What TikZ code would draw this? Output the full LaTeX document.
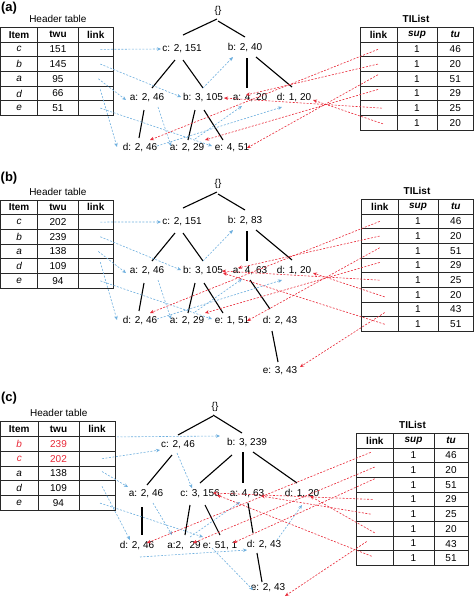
\documentclass[tikz,border=0pt]{standalone}
\usepackage{fontspec}
\setmainfont{Liberation Sans}
\usetikzlibrary{arrows.meta,calc}
\definecolor{linkblue}{RGB}{110,175,222}
\definecolor{linkred}{RGB}{232,40,55}
\definecolor{tblline}{RGB}{40,40,40}
\newcommand{\tsz}{\fontsize{10}{12}\selectfont}
\tikzset{
 tbl/.style={draw=tblline, line width=1pt},
 ttl/.style={font=\tsz, inner sep=0pt},
 ttlb/.style={font=\tsz\bfseries, inner sep=0pt},
 hd/.style={font=\tsz\bfseries, inner sep=0pt},
 hdi/.style={font=\tsz\bfseries\itshape, inner sep=0pt},
 cell/.style={font=\tsz, inner sep=0pt},
 celli/.style={font=\tsz\itshape, inner sep=0pt},
 tn/.style={font=\tsz, inner sep=0.5pt},
 plabel/.style={font=\fontsize{13}{15}\selectfont\bfseries, inner sep=0pt},
 tedge/.style={draw=black, line width=1.1pt},
 bl/.style={draw=linkblue, line width=0.6pt, dash pattern=on 2pt off 1.5pt, -{Stealth[length=4pt,width=3.5pt]}},
 rd/.style={draw=linkred, line width=0.6pt, dash pattern=on 2pt off 1.5pt, -{Stealth[length=4pt,width=3.5pt]}},
}
% header table: #1 prefix, #2-#5 column x, #6 top, #7 row height, #8 item/twu/colour list
\newcommand{\mkheader}[8]{%
 \node[ttl] (#1-title) at ({(#2+#5)/2+1},{#6-8.5}) {Header table};
 \draw[tbl] (#2,#6) rectangle (#5,{#6+6*#7});
 \draw[tbl] (#3,#6) -- (#3,{#6+6*#7}) (#4,#6) -- (#4,{#6+6*#7});
 \foreach \k in {1,...,5} {\draw[tbl] (#2,{#6+\k*#7}) -- (#5,{#6+\k*#7});}
 \node[hd] (#1-h1) at ({(#2+#3)/2},{#6+#7/2}) {Item};
 \node[hd] (#1-h2) at ({(#3+#4)/2},{#6+#7/2}) {twu};
 \node[hd] (#1-h3) at ({(#4+#5)/2},{#6+#7/2}) {link};
 \foreach \itm/\tw/\clr [count=\i] in {#8} {
   \node[celli,text=\clr] (#1-i\i) at ({(#2+#3)/2},{#6+(\i+0.5)*#7}) {\itm};
   \node[cell,text=\clr] (#1-t\i) at ({(#3+#4)/2},{#6+(\i+0.5)*#7}) {\tw};
   \coordinate (#1-l\i) at ({#5-13},{#6+(\i+0.5)*#7});
 }
}
% TIList: #1 prefix, #2-#5 column x, #6 top, #7 rows, #8 tu list
\newcommand{\mktil}[8]{%
 \node[ttlb] (#1-title) at ({(#3+#4)/2-1},{#6-8}) {TIList};
 \draw[tbl] (#2,#6) rectangle (#5,{#6+15+#7*14.7});
 \draw[tbl] (#3,#6) -- (#3,{#6+15+#7*14.7}) (#4,#6) -- (#4,{#6+15+#7*14.7});
 \draw[tbl] (#2,{#6+15}) -- (#5,{#6+15});
 \node[hd] (#1-h1) at ({(#2+#3)/2},{#6+7.5}) {link};
 \node[hdi] (#1-h2) at ({(#3+#4)/2},{#6+7.5}) {sup};
 \node[hdi] (#1-h3) at ({(#4+#5)/2},{#6+7.5}) {tu};
 \foreach \tuv [count=\i] in {#8} {
   \draw[tbl] (#2,{#6+15+\i*14.7}) -- (#5,{#6+15+\i*14.7});
   \node[cell] (#1-s\i) at ({(#3+#4)/2},{#6+15+(\i-0.5)*14.7}) {1};
   \node[cell] (#1-u\i) at ({(#4+#5)/2},{#6+15+(\i-0.5)*14.7}) {\tuv};
   \coordinate (#1-l\i) at ({#2+18},{#6+15+(\i-0.5)*14.7});
 }
}
\newcommand{\tre}[6]{\draw[tedge] ($(#1)+(#2,#3)$) -- ($(#4)+(#5,#6)$);}
\newcommand{\blk}[6]{\draw[bl] ($(#1)+(#2,#3)$) -- ($(#4)+(#5,#6)$);}
\newcommand{\rlk}[6]{\draw[rd] ($(#1)+(#2,#3)$) -- ($(#4)+(#5,#6)$);}
\begin{document}
\begin{tikzpicture}[x=1pt,y=-1pt]
\useasboundingbox (0,0) rectangle (474,603);
% ================= (a) =================
\node[plabel] (pa) at (9,8) {(a)};
\mkheader{aH}{0.5}{37.7}{78.3}{113.3}{27.3}{14.7}{c/151/black,b/145/black,a/95/black,d/66/black,e/51/black}
\mktil{aT}{360}{397}{437}{473.5}{27}{6}{46,20,51,29,25,20}
\node[tn] (a-r) at (218,11) {\{\}};
\node[tn] (a-c1) at (182,49) {c: 2, 151};
\node[tn] (a-b1) at (245,48) {b: 2, 40};
\node[tn] (a-a1) at (147,98) {a: 2, 46};
\node[tn] (a-b2) at (203,98) {b: 3, 105};
\node[tn] (a-a2) at (250,98) {a: 4, 20};
\node[tn] (a-d1) at (294,98) {d: 1, 20};
\node[tn] (a-d2) at (140,148) {d: 2, 46};
\node[tn] (a-a3) at (187,148) {a: 2, 29};
\node[tn] (a-e1) at (232,148) {e: 4, 51};
\tre{a-r}{-1}{8}{a-c1}{1}{-14}
\tre{a-r}{0}{10}{a-b1}{0}{-11}
\tre{a-c1}{-7}{11}{a-a1}{5}{-10}
\tre{a-c1}{1}{11}{a-b2}{0}{-10}
\tre{a-b1}{2}{10}{a-a2}{-3}{-10}
\tre{a-b1}{11}{9}{a-d1}{-2}{-11}
\tre{a-a1}{-3}{12}{a-d2}{-1}{-10}
\tre{a-b2}{-8}{12}{a-a3}{1}{-8}
\tre{a-b2}{1}{12}{a-e1}{-9}{-8}
\blk{aH-l1}{0}{0}{a-c1}{-21}{0}
\blk{aH-l2}{0}{0}{a-b2}{-22}{-1}
\blk{aH-l3}{-2}{0}{a-a1}{-21}{2}
\blk{aH-l4}{0}{-4}{a-d2}{-23}{-1}
\blk{aH-l5}{0}{0}{a-e1}{-20}{-2}
\blk{a-b2}{0}{-10}{a-b1}{-12}{9}
\blk{a-a1}{11}{9}{a-a3}{-16}{-2}
\blk{a-a3}{8}{-9}{a-a2}{-8}{8}
\blk{a-d2}{17}{-2}{a-d1}{-12}{9}
\rlk{aT-l1}{0}{0}{a-d2}{10}{-8}
\rlk{aT-l2}{0}{0}{a-a2}{-4}{-3}
\rlk{aT-l3}{0}{-4}{a-e1}{15}{0}
\rlk{aT-l4}{0}{-4}{a-a3}{18}{-8}
\rlk{aT-l5}{4}{0}{a-b2}{21}{0}
\rlk{aT-l6}{5}{1}{a-d1}{19}{2}
% ================= (b) =================
\node[plabel] (pb) at (9,178) {(b)};
\mkheader{bH}{0.5}{37.7}{78.3}{113.3}{200}{14.7}{c/202/black,b/239/black,a/138/black,d/109/black,e/94/black}
\mktil{bT}{361.7}{398}{438}{473.5}{199}{8}{46,20,51,29,25,20,43,51}
\node[tn] (b-r) at (218,184) {\{\}};
\node[tn] (b-c1) at (182,222) {c: 2, 151};
\node[tn] (b-b1) at (245,221) {b: 2, 83};
\node[tn] (b-a1) at (147,271) {a: 2, 46};
\node[tn] (b-b2) at (203,271) {b: 3, 105};
\node[tn] (b-a2) at (250,271) {a: 4, 63};
\node[tn] (b-d1) at (294,271) {d: 1, 20};
\node[tn] (b-d2) at (140,321) {d: 2, 46};
\node[tn] (b-a3) at (187,321) {a: 2, 29};
\node[tn] (b-e1) at (232,321) {e: 1, 51};
\node[tn] (b-d3) at (280,321) {d: 2, 43};
\node[tn] (b-e2) at (280,371) {e: 3, 43};
\tre{b-r}{-1}{8}{b-c1}{1}{-14}
\tre{b-r}{0}{10}{b-b1}{0}{-11}
\tre{b-c1}{-7}{11}{b-a1}{5}{-10}
\tre{b-c1}{1}{11}{b-b2}{0}{-10}
\tre{b-b1}{2}{10}{b-a2}{-3}{-10}
\tre{b-b1}{11}{9}{b-d1}{-2}{-11}
\tre{b-a1}{-3}{12}{b-d2}{-1}{-10}
\tre{b-b2}{-8}{12}{b-a3}{1}{-8}
\tre{b-b2}{1}{12}{b-e1}{-9}{-8}
\tre{b-a2}{0}{9}{b-d3}{-10}{-12}
\tre{b-d3}{-8}{10}{b-e2}{-2}{-9}
\blk{bH-l1}{0}{0}{b-c1}{-21}{0}
\blk{bH-l2}{0}{0}{b-b2}{-22}{-1}
\blk{bH-l3}{-2}{0}{b-a1}{-21}{2}
\blk{bH-l4}{0}{-4}{b-d2}{-23}{-1}
\blk{bH-l5}{0}{0}{b-e1}{-20}{-2}
\blk{b-b2}{0}{-10}{b-b1}{-12}{9}
\blk{b-a1}{11}{9}{b-a3}{-16}{-2}
\blk{b-a3}{8}{-9}{b-a2}{-8}{8}
\blk{b-d2}{17}{-2}{b-d1}{-12}{9}
\rlk{bT-l1}{0}{0}{b-d2}{10}{-8}
\rlk{bT-l2}{0}{0}{b-a2}{-12}{-3}
\rlk{bT-l3}{0}{-3}{b-e1}{15}{0}
\rlk{bT-l4}{0}{-3}{b-a3}{18}{-8}
\rlk{bT-l5}{0}{0}{b-b2}{19}{0}
\rlk{bT-l6}{5}{2}{b-d1}{19}{2}
\rlk{bT-l7}{5}{3}{b-e2}{20}{-4}
\rlk{bT-l8}{5}{0}{b-b2}{20}{2}
% ================= (c) =================
\node[plabel] (pc) at (9,398) {(c)};
\mkheader{cH}{0.5}{38}{79}{115}{421.7}{14.8}{b/239/linkred,c/202/linkred,a/138/black,d/109/black,e/94/black}
\mktil{cT}{356.7}{393}{434}{468}{433}{8}{46,20,51,29,25,20,43,51}
\node[tn] (c-r) at (215,407) {\{\}};
\node[tn] (c-c1) at (178,445) {c: 2, 46};
\node[tn] (c-b1) at (247,443) {b: 3, 239};
\node[tn] (c-a1) at (146,494) {a: 2, 46};
\node[tn] (c-c2) at (200,494) {c: 3, 156};
\node[tn] (c-a2) at (247,494) {a: 4, 63};
\node[tn] (c-d1) at (302,494) {d: 1, 20};
\node[tn] (c-d2) at (137,546) {d: 2, 46};
\node[tn] (c-a3) at (184,546) {a:2,\ \ 29};
\node[tn] (c-e1) at (220,546) {e: 51, 1};
\node[tn] (c-d3) at (264,545) {d: 2, 43};
\node[tn] (c-e2) at (268,588) {e: 2, 43};
\tre{c-r}{-2}{9}{c-c1}{0}{-10}
\tre{c-r}{-2}{8}{c-b1}{-5}{-10}
\tre{c-c1}{-6}{10}{c-a1}{1}{-9}
\tre{c-b1}{-15}{12}{c-c2}{0}{-11}
\tre{c-b1}{-4}{9}{c-a2}{-4}{-11}
\tre{c-b1}{6}{9}{c-d1}{-5}{-11}
\tre{c-a1}{-4}{13}{c-d2}{5}{-11}
\tre{c-c2}{-10}{11}{c-a3}{1}{-11}
\tre{c-c2}{5}{11}{c-e1}{0}{-11}
\tre{c-a2}{1}{9}{c-d3}{-11}{-12}
\tre{c-d3}{-7}{8}{c-e2}{-6}{-6}
\blk{cH-l1}{15}{-7}{c-b1}{-27}{-7}
\blk{cH-l2}{0}{0}{c-c1}{-18}{5}
\blk{cH-l3}{0}{-2}{c-a1}{-18}{-7}
\blk{cH-l4}{0}{-2}{c-d2}{-7}{-6}
\blk{cH-l5}{-2}{0}{c-e1}{-17}{-9}
\blk{c-c1}{-1}{8}{c-c2}{-8}{-6}
\blk{c-a1}{7}{9}{c-a3}{-12}{-11}
\blk{c-a3}{6}{-9}{c-a2}{-7}{8}
\blk{c-d2}{3}{11}{c-d3}{-17}{5}
\blk{c-d3}{13}{-5}{c-d1}{0}{11}
\blk{c-e1}{-8}{2}{c-e2}{-15}{2}
\rlk{cT-l1}{-4}{-3}{c-d2}{10}{-3}
\rlk{cT-l2}{0}{-3}{c-a3}{9}{-3}
\rlk{cT-l3}{0}{-6}{c-e1}{13}{-3}
\rlk{cT-l4}{-2}{0}{c-c2}{13}{-1}
\rlk{cT-l5}{-4}{0}{c-a2}{14}{2}
\rlk{cT-l6}{0}{4}{c-d1}{8}{2}
\rlk{cT-l7}{-8}{-2}{c-e2}{17}{8}
\rlk{cT-l8}{-3}{-2}{c-c2}{17}{1}
\end{tikzpicture}
\end{document}
